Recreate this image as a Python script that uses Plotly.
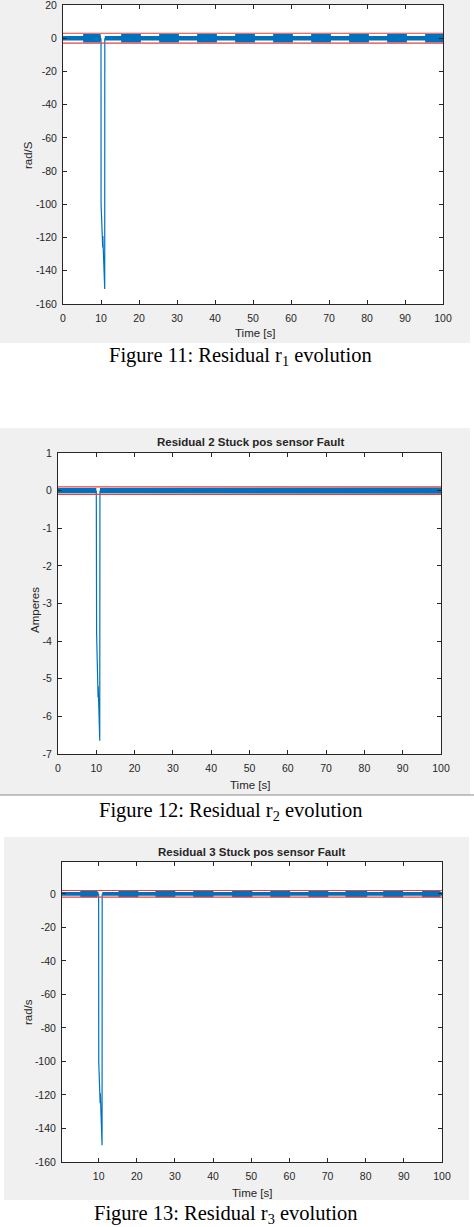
import plotly.graph_objects as go

W, H = 474, 1227

# ---------------- data ----------------
time_range = [0, 100]

# Panel 1 : residual r1 (rad/S)
r1_segments = [(0.0, 10.0), (11.0, 100.0)]
r1_burst_start = [5.3, 15.3, 25.3, 35.3, 45.3, 55.3, 65.3, 75.3, 85.3, 95.3]
r1_burst_end = [9.9, 20.5, 30.5, 40.5, 50.5, 60.5, 70.5, 80.5, 90.5, 100.0]
r1_noise_quiet = 1.4
r1_noise_burst = 2.6
r1_threshold = 3.0
r1_fault_t = [10.0, 10.02, 10.45, 10.5, 10.55, 10.98, 11.0]
r1_fault_v = [0, -100, -126, -119, -124, -151, 0]

# Panel 2 : residual r2 (Amperes)
r2_segments = [(0.0, 10.0), (10.95, 100.0)]
r2_burst_start = [5.3, 15.3, 25.3, 35.3, 45.3, 55.3, 65.3, 75.3, 85.3, 95.3]
r2_burst_end = [9.9, 20.5, 30.5, 40.5, 50.5, 60.5, 70.5, 80.5, 90.5, 100.0]
r2_noise_quiet = 0.07
r2_noise_burst = 0.085
r2_threshold = 0.1
r2_fault_t = [10.0, 10.08, 10.4, 10.45, 10.5, 10.9, 10.95]
r2_fault_v = [0, -3.8, -5.2, -5.5, -5.2, -6.65, 0]

# Panel 3 : residual r3 (rad/s)
r3_segments = [(0.0, 10.0), (10.95, 100.0)]
r3_burst_start = [5.2, 15.2, 24.9, 34.8, 45.0, 55.0, 65.0, 74.7, 84.6, 94.8]
r3_burst_end = [9.7, 20.4, 30.1, 40.1, 50.3, 60.2, 70.2, 80.4, 89.8, 99.6]
r3_noise_quiet = 1.1
r3_noise_burst = 2.0
r3_threshold = 2.0
r3_fault_t = [10.0, 10.03, 10.4, 10.45, 10.9, 10.93]
r3_fault_v = [0, -100, -125, -119, -150, 0]

# axis ticks
r1_yticks = [20, 0, -20, -40, -60, -80, -100, -120, -140, -160]
r2_yticks = [1, 0, -1, -2, -3, -4, -5, -6, -7]
r3_yticks = [0, -20, -40, -60, -80, -100, -120, -140, -160]
x_ticks_full = [0, 10, 20, 30, 40, 50, 60, 70, 80, 90, 100]
x_ticks_p3 = [10, 20, 30, 40, 50, 60, 70, 80, 90, 100]

# ---------------- styling ----------------
BLUE = "#0072BD"
RED = "#E8413C"
AX = "#262626"
GREY = "#F0F0F0"
SANS = "Liberation Sans, Arial, sans-serif"
SERIF = "Liberation Serif, Times New Roman, serif"


def band_polygon(segments, b_start, b_end, quiet, burst):
    xs, ys = [], []
    for a, b in segments:
        edges = []
        for s, e in zip(b_start, b_end):
            if a < s < b:
                edges.append((s, quiet, burst))
            if a < e < b:
                edges.append((e, burst, quiet))
        edges.sort()

        def amp_at(t):
            for s, e in zip(b_start, b_end):
                if s <= t < e:
                    return burst
            return quiet

        ux, uy = [a], [amp_at(a)]
        for t, before, after in edges:
            ux += [t, t]
            uy += [before, after]
        ux.append(b)
        uy.append(uy[-1])
        xs += ux + ux[::-1] + [ux[0], None]
        ys += uy + [-v for v in uy[::-1]] + [uy[0], None]
    return xs, ys


fig = go.Figure()

panels = [
    dict(xa="x", ya="y", seg=r1_segments, bs=r1_burst_start, be=r1_burst_end,
         q=r1_noise_quiet, bu=r1_noise_burst, th=r1_threshold,
         ft=r1_fault_t, fv=r1_fault_v),
    dict(xa="x2", ya="y2", seg=r2_segments, bs=r2_burst_start, be=r2_burst_end,
         q=r2_noise_quiet, bu=r2_noise_burst, th=r2_threshold,
         ft=r2_fault_t, fv=r2_fault_v),
    dict(xa="x3", ya="y3", seg=r3_segments, bs=r3_burst_start, be=r3_burst_end,
         q=r3_noise_quiet, bu=r3_noise_burst, th=r3_threshold,
         ft=r3_fault_t, fv=r3_fault_v),
]

for p in panels:
    bx, by = band_polygon(p["seg"], p["bs"], p["be"], p["q"], p["bu"])
    fig.add_trace(go.Scatter(x=bx, y=by, fill="toself", fillcolor=BLUE,
                             mode="lines", line=dict(width=0, color=BLUE),
                             xaxis=p["xa"], yaxis=p["ya"], showlegend=False,
                             hoverinfo="skip"))
    fig.add_trace(go.Scatter(x=p["ft"], y=p["fv"], mode="lines",
                             line=dict(width=1.2, color=BLUE),
                             xaxis=p["xa"], yaxis=p["ya"], showlegend=False))
    for sgn in (1, -1):
        fig.add_trace(go.Scatter(x=time_range, y=[sgn * p["th"]] * 2, mode="lines",
                                 line=dict(width=1.2, color=RED),
                                 xaxis=p["xa"], yaxis=p["ya"], showlegend=False))


def px_x(v):
    return v / W


def px_y(v):
    return 1 - v / H


# plot areas in pixels: (left, right, top, bottom)
areas = [(63, 443, 5, 304), (58, 441, 453, 754), (62, 442, 862, 1162)]

axis_common = dict(showline=True, linecolor=AX, linewidth=1, mirror="ticks",
                   ticks="inside", ticklen=4, tickcolor=AX, tickwidth=1,
                   showgrid=False, zeroline=False, automargin=False,
                   ticklabeloverflow="allow",
                   tickfont=dict(family=SANS, size=10.5, color=AX))

layout_axes = {}
names = [("xaxis", "yaxis", "x", "y"), ("xaxis2", "yaxis2", "x2", "y2"),
         ("xaxis3", "yaxis3", "x3", "y3")]
yranges = [[-160, 20], [-7, 1], [-160, 19]]
ytickss = [r1_yticks, r2_yticks, r3_yticks]
xtickss = [x_ticks_full, x_ticks_full, x_ticks_p3]
xranges = [[0, 100], [0, 100], [0.4, 100]]
for (xn, yn, xa, ya), (l, r, t, b), yr, yt, xt, xr in zip(names, areas, yranges, ytickss, xtickss, xranges):
    layout_axes[xn] = dict(axis_common, domain=[px_x(l), px_x(r)], anchor=ya,
                           range=xr, tickvals=xt, ticktext=[str(v) for v in xt],
                           ticklabelstandoff=4)
    layout_axes[yn] = dict(axis_common, domain=[px_y(b), px_y(t)], anchor=xa,
                           range=yr, tickvals=yt, ticktext=[str(v) for v in yt],
                           ticklabelstandoff=3)

shapes = []
# grey figure backgrounds
for (x0, x1, y0, y1) in [(0, 470, -5, 343), (0, 470, 428, 795), (4, 469, 837, 1200)]:
    shapes.append(dict(type="rect", xref="paper", yref="paper", layer="below",
                       x0=px_x(x0), x1=px_x(x1), y0=px_y(y1), y1=px_y(y0),
                       fillcolor=GREY, line=dict(width=0)))
# white axes backgrounds
for (l, r, t, b) in areas:
    shapes.append(dict(type="rect", xref="paper", yref="paper", layer="below",
                       x0=px_x(l), x1=px_x(r), y0=px_y(b), y1=px_y(t),
                       fillcolor="white", line=dict(width=0)))
# separator line under panel 2
shapes.append(dict(type="line", xref="paper", yref="paper", x0=0, x1=1,
                   y0=px_y(795), y1=px_y(795), line=dict(color="#8a8a8a", width=1)))

annotations = []


def ann(text, x, y, size, family=SANS, color=AX, angle=0):
    annotations.append(dict(text=text, x=px_x(x), y=px_y(y), xref="paper", yref="paper",
                            showarrow=False, xanchor="center", yanchor="middle",
                            textangle=angle, font=dict(family=family, size=size, color=color)))


# panel titles
ann("<b>Residual 2 Stuck pos sensor Fault</b>", 250, 442, 11.5)
ann("<b>Residual 3 Stuck pos sensor Fault</b>", 252, 852, 11.5)
# axis titles
ann("Time [s]", 255, 333, 11.5)
ann("Time [s]", 250, 785, 11.5)
ann("Time [s]", 252, 1193, 11.5)
ann("rad/S", 28, 155, 11.5, angle=-90)
ann("Amperes", 35, 610, 11.5, angle=-90)
ann("rad/s", 28, 1012, 11.5, angle=-90)
# captions
ann("Figure 11: Residual r<sub>1</sub> evolution", 240, 357, 20.5, family=SERIF, color="black")
ann("Figure 12: Residual r<sub>2</sub> evolution", 230, 811, 20.5, family=SERIF, color="black")
ann("Figure 13: Residual r<sub>3</sub> evolution", 225, 1214, 20.5, family=SERIF, color="black")

fig.update_layout(template="none", width=W, height=H, margin=dict(l=0, r=0, t=0, b=0),
                  paper_bgcolor="white", plot_bgcolor="white",
                  shapes=shapes, annotations=annotations, showlegend=False,
                  **layout_axes)

fig.write_html("out.html", config={"displayModeBar": False, "staticPlot": True},
               post_script="document.body.style.margin='0';document.body.style.overflow='hidden';")
